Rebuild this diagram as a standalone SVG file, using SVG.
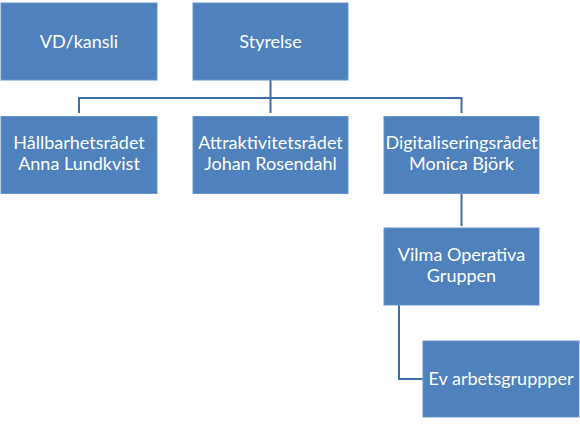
<svg xmlns="http://www.w3.org/2000/svg" width="580" height="424" viewBox="0 0 580 424">
<style>
.box{fill:#4F81BD;stroke:#6A95C8;stroke-width:1}
.t{font-family:Lato,"Open Sans","Liberation Sans",sans-serif;font-size:18px;fill:#FFFFFF;text-anchor:middle}
.c{fill:none;stroke:#3F6DA6;stroke-width:2}
</style>
<rect width="580" height="424" fill="#FFFFFF"/>
<g id="connectors">
<path class="c" d="M270.5 80 V113 M79 113 V98 H461.5 V113"/>
<path class="c" d="M461.5 193 V226"/>
<path class="c" d="M399 305 V379 H423"/>
</g>
<g id="vd">
<rect class="box" x="1" y="3" width="156" height="77"/>
<text class="t" x="79" y="48">VD/kansli</text>
</g>
<g id="styrelse">
<rect class="box" x="193" y="3" width="155" height="77"/>
<text class="t" x="270.5" y="48">Styrelse</text>
</g>
<g id="hallbarhet">
<rect class="box" x="1" y="116.5" width="156" height="77"/>
<text class="t" x="79" y="149">Hållbarhetsrådet</text>
<text class="t" x="79" y="170">Anna Lundkvist</text>
</g>
<g id="attraktivitet">
<rect class="box" x="193" y="116.5" width="155" height="77"/>
<text class="t" x="270.5" y="149">Attraktivitetsrådet</text>
<text class="t" x="270.5" y="170">Johan Rosendahl</text>
</g>
<g id="digital">
<rect class="box" x="384" y="116.5" width="155" height="77"/>
<text class="t" x="461.5" y="149">Digitaliseringsrådet</text>
<text class="t" x="461.5" y="170">Monica Björk</text>
</g>
<g id="vilma">
<rect class="box" x="384" y="228" width="155" height="77"/>
<text class="t" x="461.5" y="261">Vilma Operativa</text>
<text class="t" x="461.5" y="282">Gruppen</text>
</g>
<g id="ev">
<rect class="box" x="423" y="341" width="156" height="76"/>
<text class="t" x="501" y="385">Ev arbetsgruppper</text>
</g>
</svg>
